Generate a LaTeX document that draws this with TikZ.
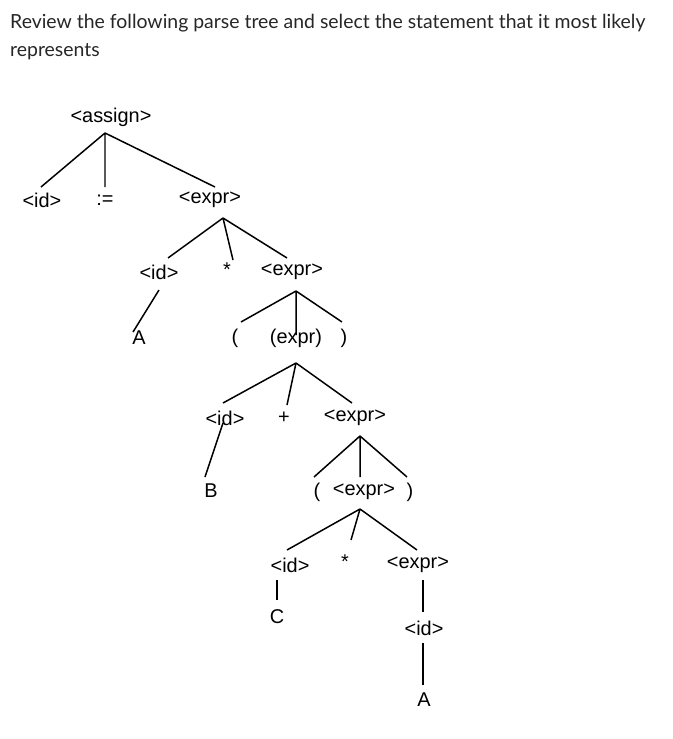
\documentclass[tikz,border=0pt]{standalone}
\usepackage{fontspec}
\setmainfont{Liberation Sans}
\newfontfamily\latofont{Lato}
\begin{document}
\begin{tikzpicture}[x=1bp,y=-1bp,
  lbl/.style={inner sep=0pt,font=\fontsize{20}{22}\selectfont},
  ttl/.style={inner sep=0pt,anchor=base west,font=\latofont\fontsize{19.5}{22}\selectfont,text=black!85},
  edge/.style={line width=1.5pt}]
\useasboundingbox (0,0) rectangle (673,739);
\node[ttl] (t1) at (10,29) {Review the following parse tree and select the statement that it most likely};
\node[ttl] (t2) at (10,57) {represents};
% labels
\node[lbl] (assign) at (111,117) {<assign>};
\node[lbl] (id1) at (42,200) {<id>};
\node[lbl] (asg) at (105,200) {:=};
\node[lbl] (e1) at (210,200) {<expr>};
\node[lbl] (id2) at (159,272) {<id>};
\node[lbl] (m1) at (227,270) {*};
\node[lbl] (e2) at (292,272) {<expr>};
\node[lbl] (A1) at (139,338) {A};
\node[lbl] (lp1) at (235,338) {(};
\node[lbl] (e3) at (296,338) {(expr)};
\node[lbl] (rp1) at (344,338) {)};
\node[lbl] (id3) at (225,418) {<id>};
\node[lbl] (plus) at (284,418) {+};
\node[lbl] (e4) at (355,418) {<expr>};
\node[lbl] (B) at (211,491) {B};
\node[lbl] (lp2) at (317,492) {(};
\node[lbl] (e5) at (364,492) {<expr>};
\node[lbl] (rp2) at (410,492) {)};
\node[lbl] (id4) at (290,565) {<id>};
\node[lbl] (m2) at (345,562) {*};
\node[lbl] (e6) at (418,565) {<expr>};
\node[lbl] (C) at (277,617) {C};
\node[lbl] (id5) at (424,628) {<id>};
\node[lbl] (A2) at (424,700) {A};
% connector points
\coordinate (p1) at (105,133);
\draw[edge] (p1) -- (41,187) (p1) -- (105,187) (p1) -- (215,187);
\coordinate (p2) at (223,218);
\draw[edge] (p2) -- (168,258) (p2) -- (233,260) (p2) -- (287,258);
\draw[edge] (159,290) -- (133,332);
\coordinate (p3) at (296,291);
\draw[edge] (p3) -- (241,322) (p3) -- (296,335) (p3) -- (342,322);
\coordinate (p4) at (296,363);
\draw[edge] (p4) -- (223,403) (p4) -- (287,405) (p4) -- (352,403);
\draw[edge] (223,423) -- (205,477);
\coordinate (p5) at (360,436);
\draw[edge] (p5) -- (314,477) (p5) -- (360,477) (p5) -- (407,477);
\coordinate (p6) at (360,509);
\draw[edge] (p6) -- (287,550) (p6) -- (351,540) (p6) -- (417,550);
\draw[edge] (277,580) -- (277,600);
\draw[edge] (423,580) -- (423,612);
\draw[edge] (423,643) -- (423,685);
\end{tikzpicture}
\end{document}
